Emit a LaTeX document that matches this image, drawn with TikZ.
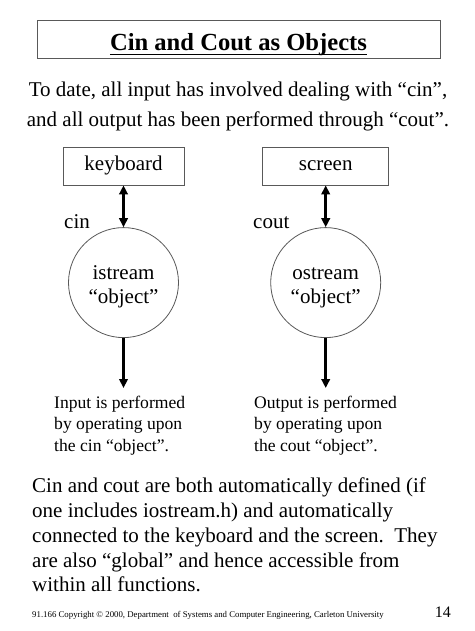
\documentclass[tikz,border=0pt]{standalone}
\usepackage{fontspec}
\setmainfont{Liberation Serif}
\usetikzlibrary{arrows.meta}
\begin{document}
\begin{tikzpicture}[x=1pt,y=-1pt,
  txt/.style={inner sep=0pt, anchor=base west},
  ctxt/.style={inner sep=0pt, anchor=base},
  big/.style={font=\fontsize{21}{25}\selectfont},
  note/.style={font=\fontsize{17.6}{21}\selectfont},
  boxnode/.style={draw=black!65, line width=0.8pt, minimum height=38pt, inner sep=0pt, text height=14.5pt, text depth=4.5pt, font=\fontsize{21}{24}\selectfont},
  circ/.style={circle, draw=black!65, line width=0.8pt, minimum size=110pt, inner sep=0pt, align=center, font=\fontsize{21}{24}\selectfont},
  tip/.tip={Triangle[length=9pt,width=8.5pt]},
  conn/.style={line width=2.6pt, -tip},
  dconn/.style={line width=2.6pt, tip-tip}
]
\useasboundingbox[fill=white] (0,0) rectangle (474,631);

% title
\node[draw=black!65, line width=0.8pt, minimum width=403pt, minimum height=38pt, inner sep=0pt] (tbox) at (238.5,39) {};
\node[ctxt, font=\fontsize{24.6}{28}\selectfont\bfseries] (title) at (238.5,51) {Cin and Cout as Objects};
\draw[line width=1.6pt] ([yshift=-3.5pt]title.base west) -- ([yshift=-3.5pt]title.base east);

% intro
\node[ctxt, big] (i1) at (238,97) {To date, all input has involved dealing with “cin”,};
\node[ctxt, big] (i2) at (238,127) {and all output has been performed through “cout”.};

% boxes
\node[boxnode, minimum width=121pt] (kb) at (123.5,166) {keyboard};
\node[boxnode, minimum width=126pt] (sc) at (325.7,166) {screen};

% circles
\node[circ] (ist) at (123.5,282.6) {\rule{0pt}{22pt}istream\\“object”};
\node[circ] (ost) at (325.7,282.6) {\rule{0pt}{22pt}ostream\\“object”};

% labels
\node[txt, font=\fontsize{21}{24}\selectfont] (cin) at (64,228) {cin};
\node[txt, font=\fontsize{21}{24}\selectfont] (cout) at (253,228) {cout};

% arrows
\draw[dconn] (kb.south) -- (ist.north);
\draw[dconn] (sc.south) -- (ost.north);
\coordinate (ie) at (123.5,388);
\coordinate (oe) at (325.7,388);
\draw[conn] (ist.south) -- (ie);
\draw[conn] (ost.south) -- (oe);

% notes
\node[txt, note] (n1) at (54,408) {Input is performed};
\node[txt, note] (n2) at (54,429.5) {by operating upon};
\node[txt, note] (n3) at (54,451) {the cin “object”.};
\node[txt, note] (m1) at (254,408) {Output is performed};
\node[txt, note] (m2) at (254,429.5) {by operating upon};
\node[txt, note] (m3) at (254,451) {the cout “object”.};

% paragraph
\node[txt, big] (p1) at (32,492) {Cin and cout are both automatically defined (if};
\node[txt, big] (p2) at (32,517) {one includes iostream.h) and automatically};
\node[txt, big] (p3) at (32,542) {connected to the keyboard and the screen.\ \ They};
\node[txt, big] (p4) at (32,567) {are also “global” and hence accessible from};
\node[txt, big] (p5) at (32,591) {within all functions.};

% footer
\node[txt, font=\fontsize{8.8}{10}\selectfont] (foot) at (32,617) {91.166 Copyright © 2000, Department\ \ of Systems and Computer Engineering, Carleton University};
\node[inner sep=0pt, anchor=base east, font=\fontsize{16}{18}\selectfont] (pg) at (451,617) {14};
\end{tikzpicture}
\end{document}
